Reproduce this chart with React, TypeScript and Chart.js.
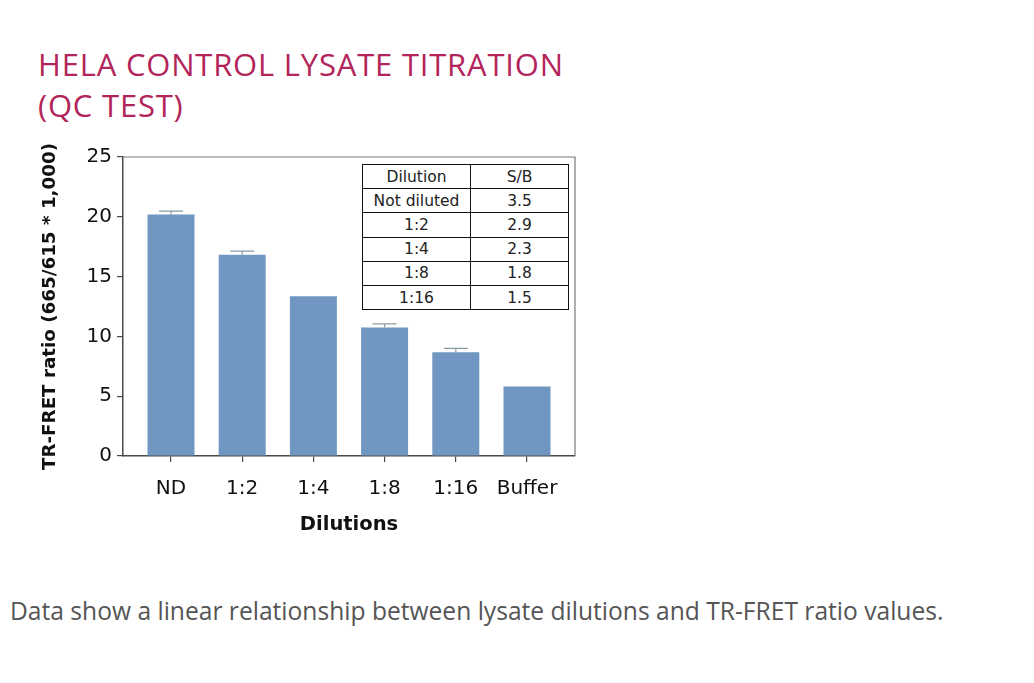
import React, { useEffect, useRef } from "react";
import { Chart, registerables } from "chart.js";

Chart.register(...registerables);

const categories = ["ND", "1:2", "1:4", "1:8", "1:16", "Buffer"];
const ratioValues = [20.2, 16.83, 13.36, 10.75, 8.67, 5.81];
const ratioErrors = [0.27, 0.3, 0, 0.3, 0.33, 0];
const yTicks = [0, 5, 10, 15, 20, 25];
const tableHeader = ["Dilution", "S/B"];
const tableDilutions = ["Not diluted", "1:2", "1:4", "1:8", "1:16"];
const tableSB = ["3.5", "2.9", "2.3", "1.8", "1.5"];

const TITLE_COLOR = "#b3245a";
const BAR_COLOR = "#7097c1";
const AXIS_COLOR = "#4a4a4a";
const FONT = "'Open Sans', 'Noto Sans', sans-serif";
const CHART_FONT = "'DejaVu Sans', sans-serif";

const errorBarPlugin = {
  id: "errorBars",
  afterDatasetsDraw(chart: any) {
    const meta = chart.getDatasetMeta(0);
    const yScale = chart.scales.y;
    const ctx = chart.ctx;
    ctx.save();
    ctx.strokeStyle = "#8a9aa2";
    ctx.lineWidth = 1.2;
    meta.data.forEach((bar: any, i: number) => {
      const err = ratioErrors[i];
      if (!err) return;
      const top = yScale.getPixelForValue(ratioValues[i] + err);
      const x = bar.x;
      ctx.beginPath();
      ctx.moveTo(x, bar.y);
      ctx.lineTo(x, top);
      ctx.moveTo(x - 12, top);
      ctx.lineTo(x + 12, top);
      ctx.stroke();
    });
    ctx.restore();
  },
};

const framePlugin = {
  id: "frame",
  afterDraw(chart: any) {
    const { ctx, chartArea } = chart;
    ctx.save();
    ctx.strokeStyle = "#7a7a7a";
    ctx.lineWidth = 1.2;
    ctx.beginPath();
    ctx.moveTo(chartArea.left, chartArea.top);
    ctx.lineTo(chartArea.right, chartArea.top);
    ctx.lineTo(chartArea.right, chartArea.bottom);
    ctx.stroke();
    ctx.restore();
  },
};

function TitrationChart() {
  const canvasRef = useRef<HTMLCanvasElement | null>(null);

  useEffect(() => {
    if (!canvasRef.current) return;
    const chart = new Chart(canvasRef.current, {
      type: "bar",
      data: {
        datasets: [
          {
            data: ratioValues.map((v, i) => ({ x: i, y: v })),
            backgroundColor: BAR_COLOR,
            borderWidth: 0,
            barPercentage: 0.66,
            categoryPercentage: 1,
          },
        ],
      },
      options: {
        animation: false,
        responsive: false,
        maintainAspectRatio: false,
        layout: { padding: { top: 16, right: 25, left: 0, bottom: 0 } },
        plugins: {
          legend: { display: false },
          tooltip: { enabled: false },
        },
        scales: {
          x: {
            type: "linear",
            offset: false,
            min: -0.674,
            max: categories.length - 1 + 0.674,
            afterBuildTicks: (scale: any) => {
              scale.ticks = categories.map((_, i) => ({ value: i }));
            },
            afterFit: (scale: any) => {
              scale.height = 94;
            },
            grid: {
              display: true,
              offset: false,
              drawOnChartArea: false,
              drawTicks: true,
              tickLength: 6,
              color: AXIS_COLOR,
              lineWidth: 1.2,
            },
            border: { display: true, color: AXIS_COLOR, width: 1.5 },
            ticks: {
              autoSkip: false,
              maxRotation: 0,
              padding: 15,
              color: "#111",
              font: { family: CHART_FONT, size: 20 },
              callback: (value: any) => categories[value as number] ?? "",
            },
            title: {
              display: true,
              text: "Dilutions",
              color: "#111",
              font: { family: CHART_FONT, size: 19.5, weight: "bold" },
              padding: { top: 0, bottom: 13 },
            },
          },
          y: {
            type: "linear",
            min: yTicks[0],
            max: yTicks[yTicks.length - 1],
            afterBuildTicks: (scale: any) => {
              scale.ticks = yTicks.map((v) => ({ value: v }));
            },
            afterFit: (scale: any) => {
              scale.width = 93;
            },
            grid: {
              display: true,
              drawOnChartArea: false,
              drawTicks: true,
              tickLength: 6,
              color: AXIS_COLOR,
              lineWidth: 1.2,
            },
            border: { display: true, color: AXIS_COLOR, width: 1.5 },
            ticks: {
              padding: 5,
              color: "#111",
              font: { family: CHART_FONT, size: 20 },
            },
            title: {
              display: true,
              text: "TR-FRET ratio (665/615 * 1,000)",
              color: "#111",
              font: { family: CHART_FONT, size: 18.3, weight: "bold" },
              padding: { top: 9, bottom: 0 },
            },
          },
        },
      },
      plugins: [errorBarPlugin, framePlugin],
    } as any);
    return () => chart.destroy();
  }, []);

  return (
    <canvas
      ref={canvasRef}
      width={570}
      height={410}
      style={{ position: "absolute", left: 22, top: 132, width: 570, height: 410 }}
    />
  );
}

const cellStyle: React.CSSProperties = {
  border: "1.5px solid #111",
  padding: 0,
  textAlign: "center",
  height: 23.2,
  lineHeight: "22px",
  fontSize: 15.5,
  color: "#222",
  fontFamily: CHART_FONT,
};

export default function App() {
  return (
    <div style={{ position: "relative", width: 1018, height: 667, fontFamily: FONT }}>
      <div
        style={{
          position: "absolute",
          left: 30,
          top: 36,
          color: TITLE_COLOR,
          fontSize: 31,
          fontWeight: 400,
          lineHeight: "41px",
          letterSpacing: 0.8,
        }}
      >
        <div>HELA CONTROL LYSATE TITRATION</div>
        <div>(QC TEST)</div>
      </div>
      <TitrationChart />
      <table
        style={{
          position: "absolute",
          left: 354,
          top: 156,
          width: 207,
          borderCollapse: "collapse",
          background: "#fff",
        }}
      >
        <tbody>
          <tr>
            <td style={{ ...cellStyle, width: 107 }}>{tableHeader[0]}</td>
            <td style={cellStyle}>{tableHeader[1]}</td>
          </tr>
          {tableDilutions.map((d, i) => (
            <tr key={d}>
              <td style={{ ...cellStyle, width: 107 }}>{d}</td>
              <td style={cellStyle}>{tableSB[i]}</td>
            </tr>
          ))}
        </tbody>
      </table>
      <div
        style={{
          position: "absolute",
          left: 2,
          top: 588,
          color: "#555",
          fontSize: 24.6,
          lineHeight: "30px",
          whiteSpace: "nowrap",
        }}
      >
        Data show a linear relationship between lysate dilutions and TR-FRET ratio values.
      </div>
    </div>
  );
}
